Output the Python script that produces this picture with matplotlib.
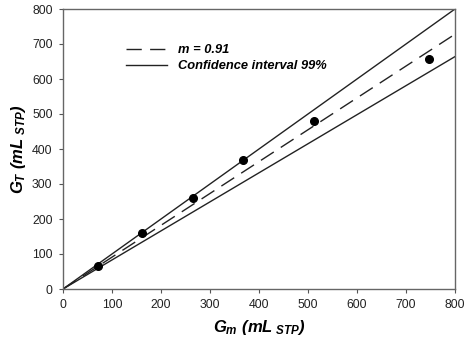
import numpy as np
import matplotlib
matplotlib.use('Agg')
import matplotlib.pyplot as plt

# measured points
g_m = [71, 161, 266, 368, 513, 747]
g_t = [67, 159, 261, 369, 480, 657]

slope_fit = 0.91
slope_upper = 1.00
slope_lower = 0.83

x_line = np.array([0, 800])

plt.rcParams['font.family'] = ['Liberation Sans', 'DejaVu Sans']
plt.rcParams['mathtext.fontset'] = 'custom'
plt.rcParams['mathtext.it'] = 'Liberation Sans:italic:bold'
plt.rcParams['mathtext.rm'] = 'Liberation Sans:italic:bold'
plt.rcParams['mathtext.bf'] = 'Liberation Sans:italic:bold'

fig = plt.figure(figsize=(4.74, 3.47), dpi=100)
ax = fig.add_axes([63 / 474, 58 / 347, 392 / 474, 280 / 347])

ax.plot(x_line, slope_fit * x_line, color='#222222', lw=1.0, dashes=(11, 6),
        label='m = 0.91')
ax.plot(x_line, slope_upper * x_line, color='#222222', lw=1.0,
        label='Confidence interval 99%')
ax.plot(x_line, slope_lower * x_line, color='#222222', lw=1.0)
ax.plot(g_m, g_t, 'o', color='black', ms=5.5, zorder=5)

ax.set_xlim(0, 800)
ax.set_ylim(0, 800)
ax.set_xticks(range(0, 801, 100))
ax.set_yticks(range(0, 801, 100))
ax.tick_params(direction='out', length=3, width=0.8, labelsize=8.8,
               color='#555555', labelcolor='#222222', pad=4.5)
for s in ax.spines.values():
    s.set_color('#666666')
    s.set_linewidth(1.0)

ax.set_xlabel(r'$G_m\ (mL_{\ STP})$', fontsize=12, labelpad=5)
ax.set_ylabel(r'$G_T\ (mL_{\ STP})$', fontsize=12, labelpad=3)

leg = ax.legend(loc='upper left', bbox_to_anchor=(0.13, 0.915), frameon=False,
                handlelength=3.2, handletextpad=0.85, labelspacing=0.3,
                prop={'size': 9.3, 'weight': 'bold', 'style': 'italic'})

fig.savefig('out.png', dpi=100)
